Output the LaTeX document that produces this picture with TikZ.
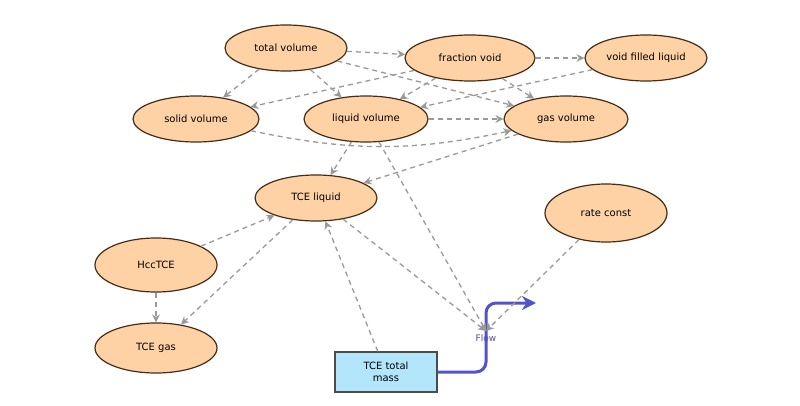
\documentclass[tikz,border=0pt]{standalone}
\usepackage{fontspec}
\setmainfont{DejaVu Sans}
\usetikzlibrary{shapes.geometric,arrows.meta}
\begin{document}
\begin{tikzpicture}[x=1pt,y=-1pt,
  v/.style={ellipse,draw=black!65!brown,line width=1.2pt,fill=orange!35!white,minimum width=#1,minimum height=46,inner sep=0pt,font=\fontsize{10}{12}\selectfont},
  v/.default=122,
  e/.style={draw=gray!80,dashed,dash pattern=on 5pt off 4pt,line width=1.3pt,-{Stealth[length=8pt,width=8pt]}},
  nt/.style={draw=gray!80,dashed,dash pattern=on 5pt off 4pt,line width=1.3pt}]
\useasboundingbox (0,0) rectangle (800,406);
\node[v] (tv) at (286,48) {total volume};
\node[v=130] (fv) at (470,58) {fraction void};
\node[v] (vfl) at (646,58) {void filled liquid};
\node[v=126] (sv) at (196,119) {solid volume};
\node[v=124] (lv) at (366,119) {liquid volume};
\node[v=124] (gv) at (566,119) {gas volume};
\node[v] (tl) at (316,198) {TCE liquid};
\node[v,minimum height=58] (rc) at (606,213) {rate const};
\node[v,minimum height=54] (hcc) at (156,265) {HccTCE};
\node[v,minimum height=50] (tg) at (156,348) {TCE gas};
\node[draw=black!70,line width=1.2pt,fill=cyan!30!white,minimum width=102,minimum height=40,align=center,font=\fontsize{10}{12}\selectfont] (tm) at (386,372) {TCE total\\mass};
\node[font=\fontsize{9}{11}\selectfont,text=blue!40!black!70] (fl) at (486,338) {Flow};
\coordinate (fe) at (536,303);
\draw[line width=3pt,draw=blue!50!gray!90,rounded corners=10pt,-{Stealth[length=14pt,width=14pt]}] (tm.east) -- (486,372) -- (486,303) -- (fe);
\draw[e] (tv) -- (fv);
\draw[e] (tv) -- (sv);
\draw[e] (tv) -- (lv);
\draw[e] (tv) -- (gv);
\draw[e] (fv) -- (vfl);
\draw[e] (fv) -- (sv);
\draw[e] (fv) -- (lv);
\draw[e] (fv) -- (gv);
\draw[e] (vfl) -- (lv);
\draw[e] (lv) -- (gv);
\draw[e] (sv) to[bend right=12] (gv);
\draw[e] (lv) -- (tl);
\draw[e] (gv) -- (tl);
\draw[e] (hcc) -- (tl);
\draw[e] (hcc) -- (tg);
\draw[e] (tl) -- (tg);
\draw[e] (tm) -- (tl);
\draw[e] (tl) -- (fl.north);
\draw[e] (lv) -- (fl.north);
\draw[e] (rc) -- (fl.north);
\end{tikzpicture}
\end{document}
